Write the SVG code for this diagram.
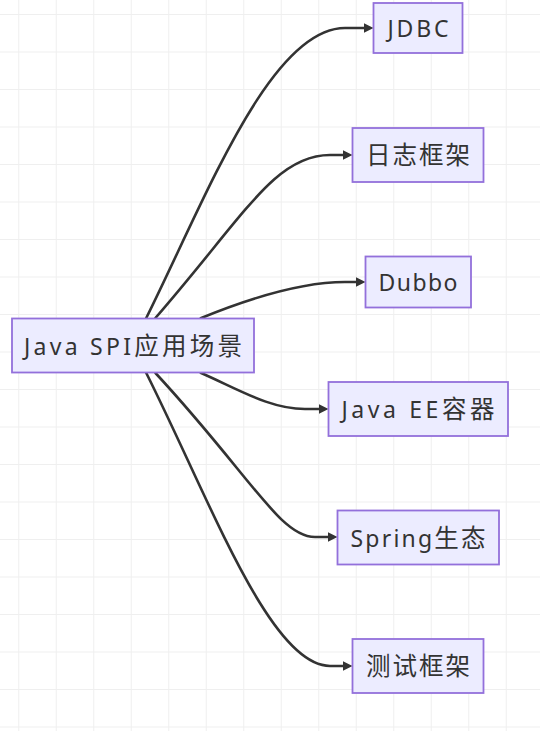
<svg xmlns="http://www.w3.org/2000/svg" width="540" height="731" viewBox="0 0 540 731">
<style>
.node rect{fill:#ECECFF;stroke:#9370DB;stroke-width:1.8}
.node text{font-family:"Noto Sans","Noto Sans CJK SC",sans-serif;font-size:23px;fill:#333;text-anchor:middle}
.node .c{font-family:"Noto Sans CJK SC",sans-serif;font-size:24.5px}
.edge{fill:none;stroke:#333;stroke-width:2.6;marker-end:url(#arrow)}
</style>
<defs>
<pattern id="grid" x="18.25" y="14" width="37.5" height="37.5" patternUnits="userSpaceOnUse">
<path d="M0.5,0 V37.5 M0,0.5 H37.5" stroke="#efefef" stroke-width="1" fill="none"/>
</pattern>
<marker id="arrow" viewBox="0 0 10 10" refX="6" refY="5" markerUnits="userSpaceOnUse" markerWidth="10" markerHeight="10" orient="auto">
<path d="M0,0 L10,5 L0,10 z" fill="#333"/>
</marker>
</defs>
<rect x="0" y="0" width="540" height="731" fill="#fff"/>
<rect x="0" y="0" width="540" height="731" fill="url(#grid)"/>
<g id="edges">
<path class="edge" d="M146,318.5 C205,200 270,28 345,28 L369.5,28"/>
<path class="edge" d="M155,318.5 C245,215 275,155 330,155 L348.5,155"/>
<path class="edge" d="M200,318.5 C250,298 300,282 345,282 L361.5,282"/>
<path class="edge" d="M200,372.5 C240,390 270,409 305,409 L324.5,409"/>
<path class="edge" d="M155,372.5 C250,475 280,537 315,537 L333.5,537"/>
<path class="edge" d="M146,372.5 C210,500 270,666 330,666 L348.5,666"/>
</g>
<g id="main" class="node"><rect x="12" y="318.5" width="242" height="54"/><text x="133" y="354.5" textLength="218" lengthAdjust="spacing">Java SPI<tspan class="c">应用场景</tspan></text></g>
<g id="jdbc" class="node"><rect x="373.5" y="3" width="89" height="50"/><text x="418" y="36.7" textLength="61" lengthAdjust="spacing">JDBC</text></g>
<g id="log" class="node"><rect x="352.5" y="128" width="131" height="54"/><text x="418" y="164" textLength="104" lengthAdjust="spacing"><tspan class="c">日志框架</tspan></text></g>
<g id="dubbo" class="node"><rect x="365.5" y="256.5" width="105.5" height="51"/><text x="418" y="290.7" textLength="79" lengthAdjust="spacing">Dubbo</text></g>
<g id="javaee" class="node"><rect x="328.5" y="382" width="179.5" height="54"/><text x="418" y="418" textLength="153" lengthAdjust="spacing">Java EE<tspan class="c">容器</tspan></text></g>
<g id="spring" class="node"><rect x="337.5" y="510.5" width="161.5" height="54"/><text x="418" y="546.7" textLength="135" lengthAdjust="spacing">Spring<tspan class="c">生态</tspan></text></g>
<g id="test" class="node"><rect x="352.5" y="639" width="131" height="54"/><text x="418" y="675" textLength="104" lengthAdjust="spacing"><tspan class="c">测试框架</tspan></text></g>
</svg>
